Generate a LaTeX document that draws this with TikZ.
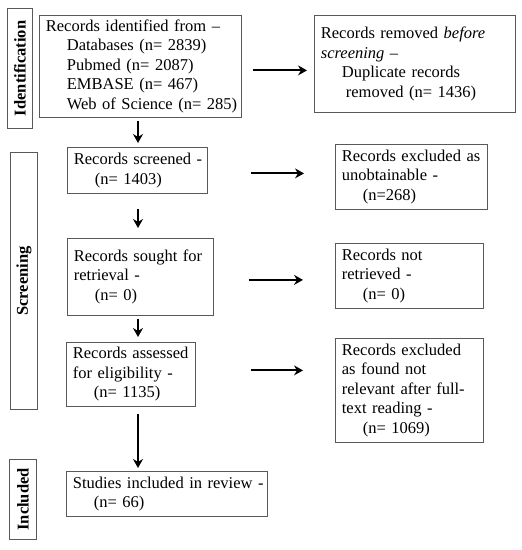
\documentclass[tikz,border=0pt]{standalone}
\usepackage{fontspec}
\setmainfont{Liberation Serif}
\usetikzlibrary{arrows.meta}
\newcommand{\myln}[1]{\mbox{#1}}
\newcommand{\myin}[1]{\mbox{\hspace*{21pt}#1}}
\begin{document}
\begin{tikzpicture}[x=1pt,y=-1pt,
  box/.style={draw=black!65, line width=0.8pt, anchor=north west, align=left,
    inner xsep=6.5pt, inner ysep=2pt,
    font=\fontsize{16.5}{19.5}\selectfont},
  side/.style={draw=black!65, line width=0.8pt, anchor=north west, inner sep=0pt},
  sidelab/.style={rotate=90, font=\fontsize{16.5}{19.5}\selectfont\bfseries},
  arr/.style={line width=2pt, -{Stealth[length=9pt,width=10pt,inset=3pt]}}]
\useasboundingbox (0,0) rectangle (522,550);
% side boxes
\node[side, minimum width=25pt, minimum height=120pt] (s1) at (7,8) {};
\node[sidelab] (l1) at (s1.center) {Identification};
\node[side, minimum width=27pt, minimum height=257pt] (s2) at (10,152) {};
\node[sidelab] (l2) at (s2.center) {Screening};
\node[side, minimum width=27pt, minimum height=80pt] (s3) at (9,459) {};
\node[sidelab] (l3) at (s3.center) {Included};
% left column
\node[box, text width=189pt, minimum height=102pt] (b1) at (39,15)
 {\myln{Records identified from –}\\\myin{Databases (n= 2839)}\\\myin{Pubmed (n= 2087)}\\\myin{EMBASE (n= 467)}\\\myin{Web of Science (n= 285)}};
\node[box, text width=127pt, minimum height=46pt] (b2) at (67,147)
 {\myln{Records screened -}\\\myin{(n= 1403)}};
\node[box, text width=133pt, minimum height=77pt] (b3) at (67,238)
 {\myln{Records sought for}\\\myln{retrieval -}\\\myin{(n= 0)}};
\node[box, text width=116pt, minimum height=64pt] (b4) at (66,342)
 {\myln{Records assessed}\\\myln{for eligibility -}\\\myin{(n= 1135)}};
\node[box, text width=188pt, minimum height=45pt] (b5) at (66,471)
 {\myln{Studies included in review -}\\\myin{(n= 66)}};
% right column
\node[box, text width=188pt, minimum height=97pt] (r1) at (314,15)
 {\myln{Records removed \textit{before}}\\\myln{\textit{screening} –}\\\myin{Duplicate records}\\\myln{\hspace*{25pt}removed (n= 1436)}};
\node[box, text width=139pt, minimum height=65pt] (r2) at (335,144)
 {\myln{Records excluded as}\\\myln{unobtainable -}\\\myin{(n=268)}};
\node[box, text width=135pt, minimum height=65pt] (r3) at (335,243)
 {\myln{Records not}\\\myln{retrieved -}\\\myin{(n= 0)}};
\node[box, text width=135pt, minimum height=104pt] (r4) at (335,338)
 {\myln{Records excluded}\\\myln{as found not}\\\myln{relevant after full-}\\\myln{text reading -}\\\myin{(n= 1069)}};
% column for vertical arrows
\coordinate (col) at (138,0);
\draw[arr, shorten <=3pt, shorten >=4pt] (b1.south -| col) -- (b2.north -| col);
\draw[arr, shorten <=15pt, shorten >=10pt] (b2.south -| col) -- (b3.north -| col);
\draw[arr, shorten <=3pt, shorten >=5pt] (b3.south -| col) -- (b4.north -| col);
\draw[arr, shorten <=7pt, shorten >=3pt] (b4.south -| col) -- (b5.north -| col);
% horizontal arrows
\draw[arr, shorten <=11pt, shorten >=7pt] ([yshift=-4pt]b1.east) -- ([yshift=-4pt]b1.east -| r1.west);
\draw[arr, shorten <=43pt, shorten >=31pt] ([yshift=-3pt]b2.east) -- ([yshift=-3pt]b2.east -| r2.west);
\draw[arr, shorten <=35pt, shorten >=32pt] ([yshift=-3pt]b3.east) -- ([yshift=-3pt]b3.east -| r3.west);
\draw[arr, shorten <=55pt, shorten >=32pt] ([yshift=4pt]b4.east) -- ([yshift=4pt]b4.east -| r4.west);
\end{tikzpicture}
\end{document}
